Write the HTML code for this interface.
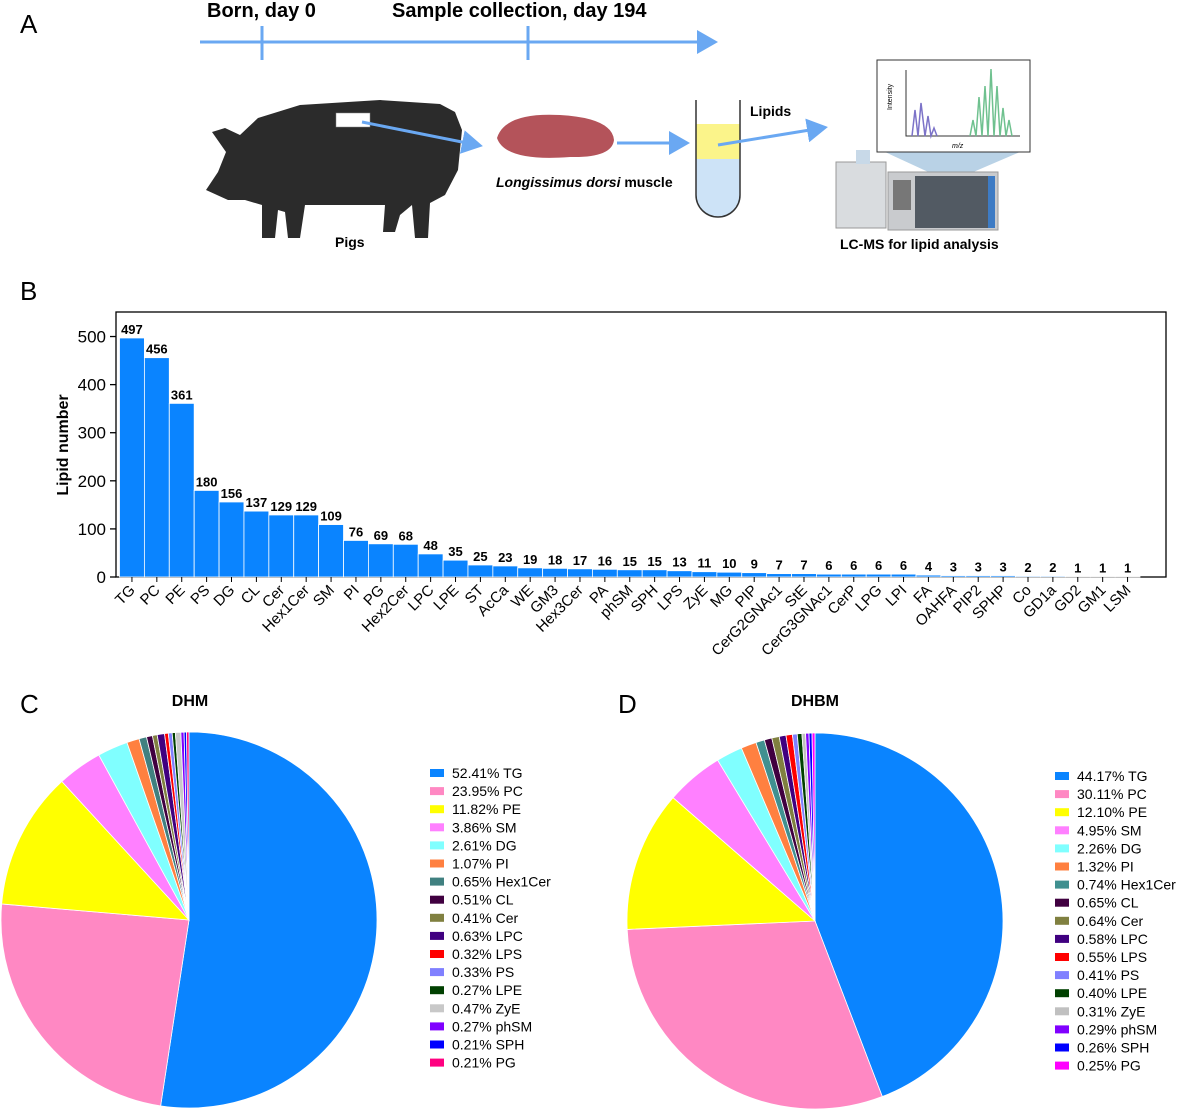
<!DOCTYPE html>
<html><head><meta charset="utf-8"><style>
html,body{margin:0;padding:0;background:#fff;}
svg{display:block;font-family:"Liberation Sans",Arial,sans-serif;}
</style></head><body>
<svg id="fig" width="1200" height="1111" viewBox="0 0 1200 1111">
<defs><marker id="ah" markerWidth="8" markerHeight="8" refX="5" refY="4" orient="auto" markerUnits="strokeWidth"><path d="M0,0 L7,4 L0,8 Z" fill="#6aa8f2"/></marker></defs>
<g>
<text x="20" y="33" font-size="26">A</text>
<line x1="200" y1="42" x2="712" y2="42" stroke="#6aa8f2" stroke-width="3" marker-end="url(#ah)"/>
<line x1="262" y1="26" x2="262" y2="60" stroke="#6aa8f2" stroke-width="3"/>
<line x1="528" y1="26" x2="528" y2="60" stroke="#6aa8f2" stroke-width="3"/>
<text x="207" y="17" font-size="20" font-weight="bold">Born, day 0</text>
<text x="392" y="17" font-size="20" font-weight="bold">Sample collection, day 194</text>
<path fill="#2b2b2b" d="M206,190 L218,172 L226,152 L212,132 L225,128 L240,135 L258,118 L300,105 L380,100 L440,104 L455,112 L462,130 L458,170 L445,195 L430,203 L428,238 L415,238 L412,205 L400,215 L395,232 L383,232 L385,205 L330,205 L305,205 L300,238 L288,238 L285,212 L278,210 L275,238 L262,238 L262,205 L245,200 L228,200 Z"/>
<rect x="336" y="113" width="34" height="14" fill="#fff" stroke="#888" stroke-width="0.5"/>
<text x="335" y="247" font-size="14" font-weight="bold">Pigs</text>
<line x1="362" y1="122" x2="477" y2="145" stroke="#6aa8f2" stroke-width="3" marker-end="url(#ah)"/>
<path d="M497,138 Q505,112 560,115 Q612,118 614,140 Q612,158 570,157 Q505,162 497,138 Z" fill="#b4535a"/>
<text x="496" y="187" font-size="14" font-weight="bold"><tspan font-style="italic">Longissimus dorsi</tspan> muscle</text>
<line x1="617" y1="143" x2="684" y2="143" stroke="#6aa8f2" stroke-width="3" marker-end="url(#ah)"/>
<g>
<rect x="696" y="124" width="44" height="35" fill="#fbf48a"/>
<path d="M696,159 L740,159 L740,195 A22,22 0 0 1 696,195 Z" fill="#cde3f7"/>
<path d="M696,100 L696,195 A22,22 0 0 0 740,195 L740,100" fill="none" stroke="#333" stroke-width="1.5"/>
</g>
<text x="750" y="116" font-size="14" font-weight="bold">Lipids</text>
<line x1="718" y1="145" x2="822" y2="128" stroke="#6aa8f2" stroke-width="3" marker-end="url(#ah)"/>
<g>
<polygon points="885,152 1020,152 950,182" fill="#b9d2e6"/>
<rect x="877" y="60" width="153" height="92" fill="#fff" stroke="#333"/>
<polyline points="906,70 906,136 1020,136" fill="none" stroke="#333"/>
<path d="M912,136 L915,110 L918,136 L921,103 L925,136 L928,116 L931,136 L934,128 L937,136" fill="none" stroke="#7c73c8" stroke-width="1.5"/>
<path d="M970,136 L973,120 L976,136 L979,97 L982,136 L985,86 L988,136 L991,69 L994,136 L997,86 L1000,136 L1003,108 L1006,136 L1009,120 L1012,136" fill="none" stroke="#6fc18f" stroke-width="1.5"/>
<text x="892" y="110" font-size="7" transform="rotate(-90 892 110)">Intensity</text>
<text x="952" y="148" font-size="7" font-style="italic">m/z</text>
</g>
<g>
<rect x="836" y="162" width="50" height="66" fill="#d9dcdf" stroke="#999"/>
<rect x="856" y="150" width="14" height="14" fill="#c8d9e8"/>
<rect x="888" y="172" width="110" height="58" fill="#c9cbce" stroke="#999"/>
<rect x="915" y="176" width="78" height="52" fill="#525a63"/>
<rect x="988" y="176" width="7" height="52" fill="#3d7bc4"/>
<rect x="893" y="180" width="18" height="30" fill="#777"/>
</g>
<text x="840" y="249" font-size="14" font-weight="bold">LC-MS for lipid analysis</text>
</g>
<g>
<text x="20" y="300" font-size="26">B</text>
<g id="barchart"></g>
</g>
<g>
<text x="20" y="713" font-size="26">C</text>
<text x="190" y="706" font-size="16" font-weight="bold" text-anchor="middle">DHM</text>
<g id="pieC"></g>
<g id="legC"></g>
</g>
<g>
<text x="618" y="713" font-size="26">D</text>
<text x="815" y="706" font-size="16" font-weight="bold" text-anchor="middle">DHBM</text>
<g id="pieD"></g>
<g id="legD"></g>
</g>
</svg>
<script>
const categories=["TG","PC","PE","PS","DG","CL","Cer","Hex1Cer","SM","PI","PG","Hex2Cer","LPC","LPE","ST","AcCa","WE","GM3","Hex3Cer","PA","phSM","SPH","LPS","ZyE","MG","PIP","CerG2GNAc1","StE","CerG3GNAc1","CerP","LPG","LPI","FA","OAHFA","PIP2","SPHP","Co","GD1a","GD2","GM1","LSM"];
const counts=[497,456,361,180,156,137,129,129,109,76,69,68,48,35,25,23,19,18,17,16,15,15,13,11,10,9,7,7,6,6,6,6,4,3,3,3,2,2,1,1,1];
const yTicks=[0,100,200,300,400,500];
const pieLabels=["TG","PC","PE","SM","DG","PI","Hex1Cer","CL","Cer","LPC","LPS","PS","LPE","ZyE","phSM","SPH","PG"];
const dhmPct=[52.41,23.95,11.82,3.86,2.61,1.07,0.65,0.51,0.41,0.63,0.32,0.33,0.27,0.47,0.27,0.21,0.21];
const dhbmPct=[44.17,30.11,12.10,4.95,2.26,1.32,0.74,0.65,0.64,0.58,0.55,0.41,0.40,0.31,0.29,0.26,0.25];
const colorsC=["#0a84ff","#ff88c3","#ffff00","#ff80ff","#80ffff","#ff8040","#408080","#400040","#808040","#400080","#ff0000","#8080ff","#004000","#c8c8c8","#8000ff","#0000ff","#ff0080"];
const colorsD=["#0a84ff","#ff88c3","#ffff00","#ff80ff","#80ffff","#ff8040","#409090","#400040","#808040","#400080","#ff0000","#8080ff","#004000","#c0c0c0","#8000ff","#0000ff","#ff00ff"];
const NS="http://www.w3.org/2000/svg";
function mk(tag,attrs,parent){const e=document.createElementNS(NS,tag);for(const k in attrs)e.setAttribute(k,attrs[k]);parent.appendChild(e);return e;}
// bar chart
(function(){
const g=document.getElementById('barchart');
const L=116,R=1166,T=312,B=577,yMax=551;
const y=v=>B-(v/yMax)*(B-T);
const x0=119.5,band=(1140-119.5)/categories.length;
const x=i=>x0+i*band;
const f=mk('rect',{x:L,y:T,width:R-L,height:B-T,fill:'none',stroke:'#000','stroke-width':1.3},g);


yTicks.forEach(t=>{
 mk('line',{x1:L-6,x2:L,y1:y(t),y2:y(t),stroke:'#000','stroke-width':1.3},g);
 const tl=mk('text',{x:L-10,y:y(t)+6,'font-size':17,'text-anchor':'end'},g);tl.textContent=t;
 
 
});
const yt=mk('text',{x:68,y:445,'font-size':16,'font-weight':'bold','text-anchor':'middle',transform:'rotate(-90 68 445)'},g);yt.textContent='Lipid number';


counts.forEach((v,i)=>{
 const b=mk('rect',{x:x(i),y:y(v),width:band,height:B-y(v),fill:'#0a84ff',stroke:'#fff','stroke-width':0.8},g);
 
 
 const cx=x(i)+band/2;
 const vl=mk('text',{x:cx,y:y(v)-4,'font-size':13,'font-weight':'bold','text-anchor':'middle'},g);vl.textContent=v;
 
 
 mk('line',{x1:cx,x2:cx,y1:B,y2:B+5,stroke:'#000','stroke-width':1},g);
 const xl=mk('text',{x:cx+4,y:B+14,'font-size':15,'text-anchor':'end',transform:`rotate(-45 ${cx+4} ${B+14})`},g);xl.textContent=categories[i];
 
 
});
})();
function pie(gid,lid,vals,cols,cx,cy,r,lx,ly){
 const g=document.getElementById(gid),lg=document.getElementById(lid);
 const tot=vals.reduce((a,b)=>a+b,0);let a=0;
 vals.forEach((v,i)=>{
  const a0=a/tot*2*Math.PI,a1=(a+v)/tot*2*Math.PI;a+=v;
  const p=(t)=>[cx+r*Math.sin(t),cy-r*Math.cos(t)];
  const [x0,y0]=p(a0),[x1,y1]=p(a1);
  const s=mk('path',{d:`M${cx},${cy} L${x0},${y0} A${r},${r} 0 ${a1-a0>Math.PI?1:0} 1 ${x1},${y1} Z`,fill:cols[i],stroke:'#fff','stroke-width':0.8},g);
  
  
  const yy=ly+i*18.1;
  const sw=mk('rect',{x:lx,y:yy-9,width:14,height:8,fill:cols[i]},lg);
  
  
  const t=mk('text',{x:lx+22,y:yy,'font-size':14},lg);
  t.textContent=v.toFixed(2)+'%  '+pieLabels[i];
  t.setAttribute('xml:space','preserve');
  
  
 });
}
pie('pieC','legC',dhmPct,colorsC,189,920,188,430,778);
pie('pieD','legD',dhbmPct,colorsD,815,921,188,1055,781);
</script>
</body></html>
